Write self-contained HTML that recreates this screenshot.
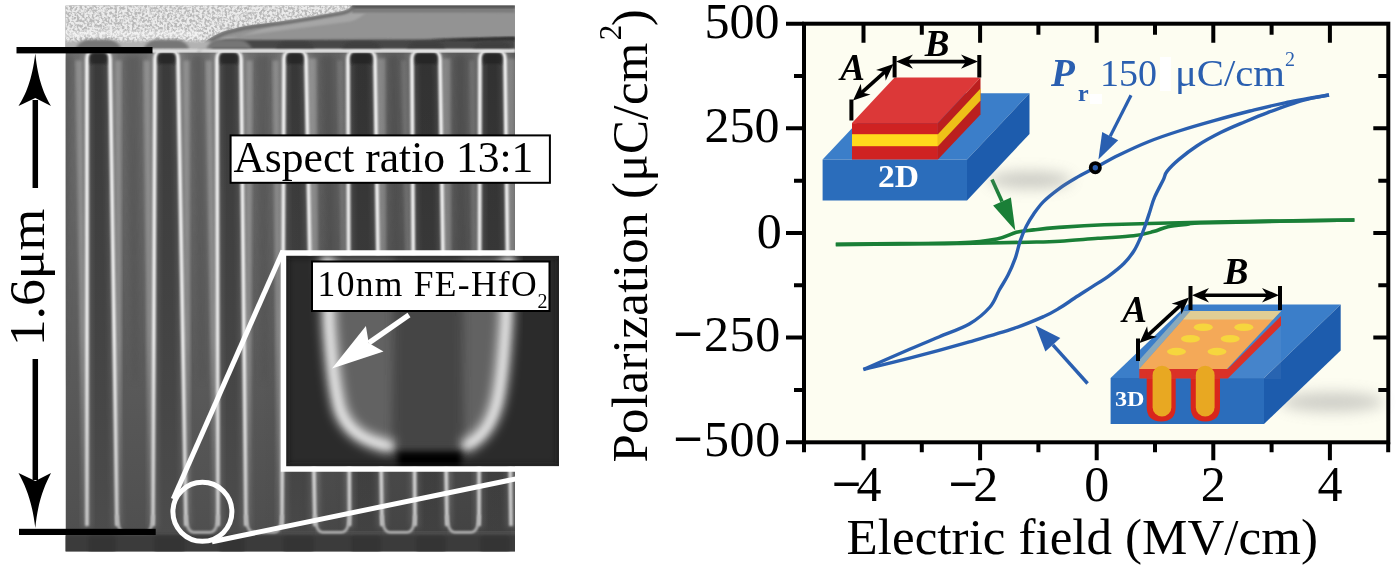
<!DOCTYPE html>
<html><head><meta charset="utf-8"><title>Figure</title>
<style>html,body{margin:0;padding:0;background:#fff}svg{display:block;font-family:"Liberation Serif",serif}</style>
</head><body>
<svg width="1400" height="570" viewBox="0 0 1400 570">
<defs>
<linearGradient id="semBase" x1="0" y1="0" x2="0" y2="1"><stop offset="0" stop-color="#727272"/><stop offset=".5" stop-color="#606060"/><stop offset="1" stop-color="#4e4e4e"/></linearGradient>
<linearGradient id="pillar" x1="0" y1="0" x2="0" y2="1"><stop offset="0" stop-color="#3a3a3a"/><stop offset=".6" stop-color="#444444"/><stop offset="1" stop-color="#4c4c4c"/></linearGradient>
<linearGradient id="lineG" gradientUnits="userSpaceOnUse" x1="0" y1="50" x2="0" y2="530"><stop offset="0" stop-color="#f6f6f6"/><stop offset=".6" stop-color="#eeeeee"/><stop offset="1" stop-color="#c6c6c6"/></linearGradient>
<linearGradient id="secG" gradientUnits="userSpaceOnUse" x1="0" y1="50" x2="0" y2="530"><stop offset="0" stop-color="#a4a4a4" stop-opacity=".6"/><stop offset=".6" stop-color="#a4a4a4" stop-opacity=".5"/><stop offset="1" stop-color="#9a9a9a" stop-opacity="0"/></linearGradient>
<linearGradient id="rdark" x1="0" y1="0" x2="1" y2="0"><stop offset="0" stop-color="#000" stop-opacity="0"/><stop offset=".4" stop-color="#000" stop-opacity=".13"/><stop offset="1" stop-color="#000" stop-opacity=".16"/></linearGradient>
<linearGradient id="secG2" gradientUnits="userSpaceOnUse" x1="0" y1="50" x2="0" y2="530"><stop offset="0" stop-color="#b0b0b0" stop-opacity=".6"/><stop offset=".6" stop-color="#b0b0b0" stop-opacity=".5"/><stop offset="1" stop-color="#b0b0b0" stop-opacity="0"/></linearGradient>
<filter id="b05"><feGaussianBlur stdDeviation=".6"/></filter>
<filter id="b08" x="-20%" y="-20%" width="140%" height="140%"><feGaussianBlur stdDeviation=".85"/></filter>
<filter id="b1"><feGaussianBlur stdDeviation="1.4"/></filter>
<filter id="b3" x="-30%" y="-30%" width="160%" height="160%"><feGaussianBlur stdDeviation="3"/></filter>
<filter id="b4" x="-30%" y="-30%" width="160%" height="160%"><feGaussianBlur stdDeviation="4.5"/></filter>
<filter id="b5" x="-30%" y="-30%" width="160%" height="160%"><feGaussianBlur stdDeviation="5.5"/></filter>
<filter id="b6" x="-50%" y="-100%" width="200%" height="300%"><feGaussianBlur stdDeviation="7"/></filter>
<filter id="noise" x="0" y="0" width="100%" height="100%"><feTurbulence type="fractalNoise" baseFrequency=".4" numOctaves="2" seed="3" result="n"/><feColorMatrix in="n" type="matrix" values="0 0 0 0 0  0 0 0 0 0  0 0 0 0 0  4 0 0 0 -1.6"/><feGaussianBlur stdDeviation=".55"/><feComposite operator="in" in2="SourceGraphic"/></filter>
<clipPath id="semClip"><rect x="65.5" y="5.5" width="449.5" height="546.0"/></clipPath>
<clipPath id="insClip"><rect x="286" y="255.5" width="273" height="211.0"/></clipPath>
</defs>
<rect width="1400" height="570" fill="#fff"/>
<g clip-path="url(#semClip)">
<rect x="65.5" y="5.5" width="449.5" height="546.0" fill="url(#semBase)"/>
<polygon points="87,50.6 110,50.6 117,534 87,534" fill="url(#pillar)"/>
<polygon points="155,50.6 178,50.6 186,534 153,534" fill="url(#pillar)"/>
<polygon points="217,50.6 241,50.6 246,534 218,534" fill="url(#pillar)"/>
<polygon points="284,50.6 306,50.6 315,534 282,534" fill="url(#pillar)"/>
<polygon points="348,50.6 375,50.6 382,534 349.5,534" fill="url(#pillar)"/>
<polygon points="412,50.6 440,50.6 447,534 415,534" fill="url(#pillar)"/>
<polygon points="480,50.6 505,50.6 511,534 479,534" fill="url(#pillar)"/>
<polygon points="49.5,54.6 73,54.6 63.25,381 59.25,381" fill="#4e4e4e" opacity=".5" filter="url(#b3)"/>
<polygon points="41,60.6 47,60.6 40.5,527 34.5,527" fill="url(#secG)" filter="url(#b1)"/>
<polygon points="75.5,60.6 81.5,60.6 88,527 82,527" fill="url(#secG)" filter="url(#b1)"/>
<polygon points="124,54.6 141,54.6 137.0,381 133.0,381" fill="#4e4e4e" opacity=".5" filter="url(#b3)"/>
<polygon points="115.5,60.6 121.5,60.6 122,527 116,527" fill="url(#secG)" filter="url(#b1)"/>
<polygon points="143.5,60.6 149.5,60.6 154,527 148,527" fill="url(#secG)" filter="url(#b1)"/>
<polygon points="192,54.6 203,54.6 204.0,381 200.0,381" fill="#4e4e4e" opacity=".5" filter="url(#b3)"/>
<polygon points="183.5,60.6 189.5,60.6 191,527 185,527" fill="url(#secG)" filter="url(#b1)"/>
<polygon points="205.5,60.6 211.5,60.6 219,527 213,527" fill="url(#secG)" filter="url(#b1)"/>
<polygon points="255,54.6 270,54.6 266.0,381 262.0,381" fill="#4e4e4e" opacity=".5" filter="url(#b3)"/>
<polygon points="246.5,60.6 252.5,60.6 251,527 245,527" fill="url(#secG)" filter="url(#b1)"/>
<polygon points="272.5,60.6 278.5,60.6 283,527 277,527" fill="url(#secG)" filter="url(#b1)"/>
<polygon points="320,54.6 334,54.6 334.25,381 330.25,381" fill="#4e4e4e" opacity=".5" filter="url(#b3)"/>
<polygon points="308.5,58.6 316.5,58.6 321,527 313,527" fill="url(#secG2)" filter="url(#b1)"/>
<polygon points="337,60.6 342,60.6 350,527 345,527" fill="url(#secG)" filter="url(#b1)" opacity=".6"/>
<polygon points="389,54.6 398,54.6 400.5,381 396.5,381" fill="#4e4e4e" opacity=".5" filter="url(#b3)"/>
<polygon points="377.5,58.6 385.5,58.6 388,527 380,527" fill="url(#secG2)" filter="url(#b1)"/>
<polygon points="401,60.6 406,60.6 415.5,527 410.5,527" fill="url(#secG)" filter="url(#b1)" opacity=".6"/>
<polygon points="454,54.6 466,54.6 465.0,381 461.0,381" fill="#4e4e4e" opacity=".5" filter="url(#b3)"/>
<polygon points="442.5,58.6 450.5,58.6 453,527 445,527" fill="url(#secG2)" filter="url(#b1)"/>
<polygon points="469,60.6 474,60.6 479.5,527 474.5,527" fill="url(#secG)" filter="url(#b1)" opacity=".6"/>
<polygon points="519,54.6 546,54.6 532.5,381 528.5,381" fill="#4e4e4e" opacity=".5" filter="url(#b3)"/>
<polygon points="507.5,58.6 515.5,58.6 517,527 509,527" fill="url(#secG2)" filter="url(#b1)"/>
<polygon points="549,60.6 554,60.6 550.5,527 545.5,527" fill="url(#secG)" filter="url(#b1)" opacity=".6"/>
<rect x="250" y="50.6" width="265" height="480.4" fill="url(#rdark)"/>
<polygon points="82.5,50.6 91.5,50.6 91.5,528 82.5,528" fill="#fff" opacity=".13" filter="url(#b3)"/>
<polygon points="105.5,50.6 114.5,50.6 121.5,528 112.5,528" fill="#fff" opacity=".13" filter="url(#b3)"/>
<polygon points="150.5,50.6 159.5,50.6 157.5,528 148.5,528" fill="#fff" opacity=".13" filter="url(#b3)"/>
<polygon points="173.5,50.6 182.5,50.6 190.5,528 181.5,528" fill="#fff" opacity=".13" filter="url(#b3)"/>
<polygon points="212.5,50.6 221.5,50.6 222.5,528 213.5,528" fill="#fff" opacity=".13" filter="url(#b3)"/>
<polygon points="236.5,50.6 245.5,50.6 250.5,528 241.5,528" fill="#fff" opacity=".13" filter="url(#b3)"/>
<polygon points="279.5,50.6 288.5,50.6 286.5,528 277.5,528" fill="#fff" opacity=".13" filter="url(#b3)"/>
<polygon points="301.5,50.6 310.5,50.6 319.5,528 310.5,528" fill="#fff" opacity=".13" filter="url(#b3)"/>
<polygon points="343.5,50.6 352.5,50.6 354,528 345,528" fill="#fff" opacity=".13" filter="url(#b3)"/>
<polygon points="370.5,50.6 379.5,50.6 386.5,528 377.5,528" fill="#fff" opacity=".13" filter="url(#b3)"/>
<polygon points="407.5,50.6 416.5,50.6 419.5,528 410.5,528" fill="#fff" opacity=".13" filter="url(#b3)"/>
<polygon points="435.5,50.6 444.5,50.6 451.5,528 442.5,528" fill="#fff" opacity=".13" filter="url(#b3)"/>
<polygon points="475.5,50.6 484.5,50.6 483.5,528 474.5,528" fill="#fff" opacity=".13" filter="url(#b3)"/>
<polygon points="500.5,50.6 509.5,50.6 515.5,528 506.5,528" fill="#fff" opacity=".13" filter="url(#b3)"/>
<path d="M87,526 L87,59.6 Q87,51.0 94,51.0 L103,51.0 Q110,51.0 110,59.6 L117,526" fill="none" stroke="url(#lineG)" stroke-width="3.7" filter="url(#b08)"/>
<path d="M153,526 L155,59.6 Q155,51.0 162,51.0 L171,51.0 Q178,51.0 178,59.6 L186,526" fill="none" stroke="url(#lineG)" stroke-width="3.7" filter="url(#b08)"/>
<path d="M218,526 L217,59.6 Q217,51.0 224,51.0 L234,51.0 Q241,51.0 241,59.6 L246,526" fill="none" stroke="url(#lineG)" stroke-width="3.7" filter="url(#b08)"/>
<path d="M282,526 L284,59.6 Q284,51.0 291,51.0 L299,51.0 Q306,51.0 306,59.6 L315,526" fill="none" stroke="url(#lineG)" stroke-width="3.7" filter="url(#b08)"/>
<path d="M349.5,526 L348,59.6 Q348,51.0 355,51.0 L368,51.0 Q375,51.0 375,59.6 L382,526" fill="none" stroke="url(#lineG)" stroke-width="3.7" filter="url(#b08)"/>
<path d="M415,526 L412,59.6 Q412,51.0 419,51.0 L433,51.0 Q440,51.0 440,59.6 L447,526" fill="none" stroke="url(#lineG)" stroke-width="3.7" filter="url(#b08)"/>
<path d="M479,526 L480,59.6 Q480,51.0 487,51.0 L498,51.0 Q505,51.0 505,59.6 L511,526" fill="none" stroke="url(#lineG)" stroke-width="3.7" filter="url(#b08)"/>
<path d="M117,515 Q117.5,532 125,532.5 L145,532.5 Q152.5,532 153,515" fill="none" stroke="#b4b4b4" stroke-width="2.8" filter="url(#b08)"/>
<path d="M186,515 Q186.5,532 194,532.5 L210,532.5 Q217.5,532 218,515" fill="none" stroke="#b4b4b4" stroke-width="2.8" filter="url(#b08)"/>
<path d="M246,515 Q246.5,532 254,532.5 L274,532.5 Q281.5,532 282,515" fill="none" stroke="#b4b4b4" stroke-width="2.8" filter="url(#b08)"/>
<path d="M315,515 Q315.5,532 323,532.5 L341.5,532.5 Q349.0,532 349.5,515" fill="none" stroke="#b4b4b4" stroke-width="2.8" filter="url(#b08)"/>
<path d="M382,515 Q382.5,532 390,532.5 L407,532.5 Q414.5,532 415,515" fill="none" stroke="#b4b4b4" stroke-width="2.8" filter="url(#b08)"/>
<path d="M447,515 Q447.5,532 455,532.5 L471,532.5 Q478.5,532 479,515" fill="none" stroke="#b4b4b4" stroke-width="2.8" filter="url(#b08)"/>
<rect x="90" y="53" width="17" height="11" rx="2" fill="#222" opacity=".75" filter="url(#b1)"/>
<rect x="158" y="53" width="17" height="11" rx="2" fill="#222" opacity=".75" filter="url(#b1)"/>
<rect x="220" y="53" width="18" height="11" rx="2" fill="#222" opacity=".75" filter="url(#b1)"/>
<rect x="287" y="53" width="16" height="11" rx="2" fill="#222" opacity=".75" filter="url(#b1)"/>
<rect x="351" y="53" width="21" height="11" rx="2" fill="#222" opacity=".75" filter="url(#b1)"/>
<rect x="415" y="53" width="22" height="11" rx="2" fill="#222" opacity=".75" filter="url(#b1)"/>
<rect x="483" y="53" width="19" height="11" rx="2" fill="#222" opacity=".75" filter="url(#b1)"/>
<rect x="65.5" y="49.2" width="449.5" height="3" fill="#e2e2e2" filter="url(#b08)"/>
<rect x="60.5" y="535" width="459.5" height="30" fill="#3b3b3b" filter="url(#b1)"/>
<rect x="89" y="536" width="26" height="20" fill="#333" opacity=".7" filter="url(#b1)"/>
<rect x="155" y="536" width="29" height="20" fill="#333" opacity=".7" filter="url(#b1)"/>
<rect x="220" y="536" width="24" height="20" fill="#333" opacity=".7" filter="url(#b1)"/>
<rect x="284" y="536" width="29" height="20" fill="#333" opacity=".7" filter="url(#b1)"/>
<rect x="351.5" y="536" width="28.5" height="20" fill="#333" opacity=".7" filter="url(#b1)"/>
<rect x="417" y="536" width="28" height="20" fill="#333" opacity=".7" filter="url(#b1)"/>
<rect x="481" y="536" width="28" height="20" fill="#333" opacity=".7" filter="url(#b1)"/>
<rect x="65.5" y="5.5" width="449.5" height="43.1" fill="#939393"/>
<path d="M200,48 L223.7,38 L350,21.5 C358,20 362,15 366,13 L515,12.5 L515,5 L340,5 Z" fill="#a6a6a6" filter="url(#b08)"/>
<rect x="352" y="5.5" width="163" height="7.5" fill="#7c7c7c" filter="url(#b08)"/>
<rect x="352" y="4.5" width="163" height="3.6" fill="#505050" filter="url(#b08)"/>
<path d="M205,48.8 L225,40 L420,39.5 L515,37 L515,48.8 Z" fill="#474747" filter="url(#b08)"/>
<path d="M430,39.6 L515,37 L515,40 L470,41 Z" fill="#2e2e2e" filter="url(#b08)"/>
<path d="M209.0,49 Q213.0,41.5 221.0,41.5 L237.0,41.5 Q245.0,41.5 249.0,49 Z" fill="#3c3c3c" opacity=".8" filter="url(#b1)"/>
<path d="M275.0,49 Q279.0,41.5 287.0,41.5 L303.0,41.5 Q311.0,41.5 315.0,49 Z" fill="#3c3c3c" opacity=".8" filter="url(#b1)"/>
<path d="M341.5,49 Q345.5,41.5 353.5,41.5 L369.5,41.5 Q377.5,41.5 381.5,49 Z" fill="#3c3c3c" opacity=".8" filter="url(#b1)"/>
<path d="M406.0,49 Q410.0,41.5 418.0,41.5 L434.0,41.5 Q442.0,41.5 446.0,49 Z" fill="#3c3c3c" opacity=".8" filter="url(#b1)"/>
<path d="M472.5,49 Q476.5,41.5 484.5,41.5 L500.5,41.5 Q508.5,41.5 512.5,49 Z" fill="#3c3c3c" opacity=".8" filter="url(#b1)"/>
<path d="M352.4,5 C349,9 347,10 340,11.5 C318,15.5 300,18.5 277,22 C260,24 250,25 240.7,27 C231,29.5 225,30.5 221,32.5 C211,37 207,40 204,43 C201,46 199,48 196,49 L65.5,49 L65.5,5 Z" fill="#ebebeb"/>
<path d="M352.4,5 C349,9 347,10 340,11.5 C318,15.5 300,18.5 277,22 C260,24 250,25 240.7,27 C231,29.5 225,30.5 221,32.5 C211,37 207,40 204,43 C201,46 199,48 196,49 L65.5,49 L65.5,5 Z" fill="#000" filter="url(#noise)" opacity=".21"/>
<path d="M352.4,5 C349,9 347,10 340,11.5 C318,15.5 300,18.5 277,22 C260,24 250,25 240.7,27 C231,29.5 225,30.5 221,32.5 C211,37 207,40 204,43 C201,46 199,48 196,49" fill="none" stroke="#6c6c6c" stroke-width="3" filter="url(#b08)" transform="translate(1.5,2)"/>
<rect x="61.5" y="41" width="150" height="9" fill="#b2b2b2" filter="url(#b1)"/>
<rect x="61.5" y="31" width="140" height="6" fill="#fff" opacity=".35" filter="url(#b1)"/>
<path d="M75.5,49 Q79.5,39.5 89.5,39.5 L107.5,39.5 Q117.5,39.5 121.5,49 Z" fill="#767676" filter="url(#b1)"/>
<path d="M143.5,49 Q147.5,39.5 157.5,39.5 L175.5,39.5 Q185.5,39.5 189.5,49 Z" fill="#767676" filter="url(#b1)"/>
<path d="M206,49 Q210,39.5 220,39.5 L238,39.5 Q248,39.5 252,49 Z" fill="#767676" filter="url(#b1)"/>
<rect x="65.5" y="49.2" width="449.5" height="2.8" fill="#e6e6e6" filter="url(#b08)" opacity=".9"/>
</g>

<line x1="173.2" y1="499" x2="283" y2="250.7" stroke="#fff" stroke-width="5"/>
<line x1="212" y1="541.7" x2="563" y2="469.2" stroke="#fff" stroke-width="5"/>
<circle cx="202.4" cy="511.8" r="29.5" fill="none" stroke="#fff" stroke-width="5"/>


<g clip-path="url(#insClip)">
<rect x="286" y="255.5" width="273" height="211.0" fill="#2b2b2b"/>
<path d="M327,240 L329,324 C332,370 336,395 340,410 C348,432 365,442 393,448 L463,448 C478,441 489,430 495.5,408 C500,395 503,370 506,324 L509,240 Z" fill="#626262" filter="url(#b4)"/>
<path d="M394,240 L392,452 L464,452 L462,240 Z" fill="#3e3e3e" filter="url(#b4)" opacity=".75"/>
<path d="M327,240 L329,324 C332,370 336,395 340,410 C348,432 365,442 393,447" fill="none" stroke="#e6e6e6" stroke-width="13" filter="url(#b5)"/>
<path d="M509,240 L506,324 C503,370 500,395 495.5,408 C489,430 478,441 463,447" fill="none" stroke="#e6e6e6" stroke-width="13" filter="url(#b5)"/>
<path d="M327,240 L329,324 C332,370 336,395 340,410 C348,432 365,442 393,447" fill="none" stroke="#fff" stroke-width="4" filter="url(#b3)" opacity=".55"/>
<path d="M509,240 L506,324 C503,370 500,395 495.5,408 C489,430 478,441 463,447" fill="none" stroke="#fff" stroke-width="4" filter="url(#b3)" opacity=".55"/>
<path d="M393,443 L463,443" fill="none" stroke="#7a7a7a" stroke-width="8" filter="url(#b4)"/>
<rect x="398" y="452" width="63" height="24" fill="#050505" filter="url(#b3)"/>
<rect x="283" y="252.5" width="279" height="217.0" fill="none" stroke="#1c1c1c" stroke-width="9" filter="url(#b3)" opacity=".8"/>
</g>
<path d="M561,253 H283.5 V469 H561" fill="none" stroke="#fff" stroke-width="5.4"/>

<line x1="409" y1="315" x2="368.7" y2="343" stroke="#fff" stroke-width="5.2"/><polygon points="332,368.5 365.9,326.1 368.7,343 383.5,351.6" fill="#fff"/>

<rect x="230.6" y="135.4" width="319.3" height="47.4" fill="#fff" stroke="#000" stroke-width="2"/>
<text x="233.4" y="172.2" font-size="44" textLength="300" lengthAdjust="spacingAndGlyphs">Aspect ratio 13:1</text>
<rect x="312" y="261.5" width="237.5" height="49.5" fill="#fff" stroke="#000" stroke-width="2"/>
<text x="317.6" y="295.7" font-size="35.5" textLength="219">10nm FE-HfO</text>
<text x="537.5" y="308.2" font-size="20">2</text>


<rect x="16.5" y="47" width="136" height="6.4" fill="#000"/>
<rect x="19" y="528.8" width="136.7" height="6.2" fill="#000"/>
<path d="M35.3,100 V188" stroke="#000" stroke-width="5.5"/>
<path d="M35.3,359 V480" stroke="#000" stroke-width="5.5"/>
<path d="M35.3,53.4 C38,80 44,94 51,106 L35.3,98 L18.5,106 C26,94 32,80 35.3,53.4 Z" fill="#000"/>
<path d="M35.3,528 C38,501 44,487 51,473 L35.3,481 L18.5,473 C26,487 32,501 35.3,528 Z" fill="#000"/>
<text transform="translate(44.2,346.3) rotate(-90)" font-size="50" textLength="137.7" lengthAdjust="spacingAndGlyphs">1.6μm</text>

<rect x="804" y="23.7" width="584.3" height="418.6" fill="#fdfdf1"/>
<path d="M786,23.7H804 M794,76H804 M1378.3,76H1388.3 M786,128.3H804 M1373.3,128.3H1388.3 M794,180.7H804 M1378.3,180.7H1388.3 M786,233H804 M1373.3,233H1388.3 M794,285.3H804 M1378.3,285.3H1388.3 M786,337.6H804 M1373.3,337.6H1388.3 M794,390H804 M1378.3,390H1388.3 M786,442.3H804 M863.5,442.3V460.3 M863.5,23.7V42.7 M921.8,442.3V452.3 M921.8,23.7V34.7 M980.1,442.3V460.3 M980.1,23.7V42.7 M1038.4,442.3V452.3 M1038.4,23.7V34.7 M1096.7,442.3V460.3 M1096.7,23.7V42.7 M1155,442.3V452.3 M1155,23.7V34.7 M1213.3,442.3V460.3 M1213.3,23.7V42.7 M1271.6,442.3V452.3 M1271.6,23.7V34.7 M1329.9,442.3V460.3 M1329.9,23.7V42.7 M1388.2,442.3V452.3 M804,442.3V452.3" stroke="#000" stroke-width="4" fill="none"/>
<path d="M835.8,244.3 C846.5,244.2 879.3,243.8 900,243.6 C920.7,243.4 943.9,243.7 960,242.9 C976.1,242.1 987.5,240.7 996.9,238.9 C1006.3,237.1 1010.4,233.8 1016.5,232.3 C1022.6,230.8 1027.1,230.7 1033.7,229.9 C1040.3,229.1 1044.3,228.4 1056,227.6 C1067.7,226.8 1080,225.7 1104,224.8 C1128,223.9 1170.7,222.9 1200,222.3 C1229.3,221.7 1254.3,221.4 1280,221 C1305.7,220.6 1342,220.2 1354.4,220" fill="none" stroke="#1a7f37" stroke-width="3.6" stroke-linejoin="round"/>
<path d="M1354.4,220 C1342,220.2 1305.7,220.7 1280,221.2 C1254.3,221.7 1215.4,222.5 1200,223 C1184.6,223.5 1193.1,223.6 1187.8,224.2 C1182.5,224.8 1173.7,225.5 1168,226.7 C1162.3,227.9 1159.1,230.1 1153.4,231.6 C1147.7,233.1 1142.9,234.7 1133.7,235.8 C1124.5,236.9 1110.3,237.4 1098,238.3 C1085.7,239.2 1071.7,240.5 1060,241.2 C1048.3,241.8 1044.7,241.8 1028,242.2 C1011.3,242.6 981.3,243.1 960,243.4 C938.7,243.7 920.7,243.8 900,244 C879.3,244.2 846.5,244.5 835.8,244.6" fill="none" stroke="#1a7f37" stroke-width="3.6" stroke-linejoin="round"/>
<path d="M863.4,369.5 C871.1,366.1 896.9,354.8 909.6,349.3 C922.3,343.8 929.5,340.9 939.4,336.7 C949.3,332.5 960.9,328.9 969.3,324 C977.7,319.1 985,312.7 990,307 C995,301.3 996.3,295.3 999.3,290 C1002.3,284.7 1005.2,280.6 1007.9,275.3 C1010.6,270 1013.2,263.8 1015.3,258.1 C1017.3,252.4 1018.4,246.2 1020.2,240.9 C1022,235.6 1024,230.7 1026.3,226.2 C1028.5,221.7 1030.8,218 1033.7,213.9 C1036.6,209.8 1039.4,205.7 1043.5,201.6 C1047.6,197.5 1053,193.2 1058.3,189.3 C1063.6,185.4 1069.3,181.9 1075.5,178.3 C1081.7,174.7 1088.2,171.5 1095.5,167.6 C1102.8,163.7 1110.1,159.3 1119,155 C1127.9,150.7 1139,145.5 1149,141.5 C1159,137.5 1168,134.5 1179,131 C1190,127.5 1203.2,123.7 1215,120.4 C1226.8,117.1 1238.3,113.9 1250,111 C1261.7,108.1 1271.8,105.5 1285,102.8 C1298.2,100.1 1321.7,96.3 1329,95" fill="none" stroke="#2a5fb0" stroke-width="3.4" stroke-linejoin="round"/>
<path d="M1329,95 C1324.6,95.9 1313,97.5 1302.8,100.4 C1292.6,103.3 1277.4,109 1267.7,112.6 C1258,116.2 1252.3,118.7 1244.5,122 C1236.7,125.3 1228.5,128.6 1220.6,132.6 C1212.6,136.6 1203.7,141.5 1196.8,146 C1189.9,150.5 1184,155.2 1179,159.4 C1174,163.6 1169.6,168 1167,171.4 C1164.4,174.8 1165.3,175.7 1163.2,180 C1161.1,184.3 1156.8,191.9 1154.6,197.2 C1152.3,202.5 1151.3,207.1 1149.7,212 C1148.1,216.9 1146.4,222.2 1144.8,226.7 C1143.2,231.2 1141.8,234.9 1139.9,239 C1138.1,243.1 1136.4,247.2 1133.7,251.3 C1131,255.4 1128,259.4 1123.9,263.5 C1119.8,267.6 1114.3,271.9 1109,275.8 C1103.7,279.7 1097.7,283.2 1092,286.9 C1086.3,290.6 1080,294.5 1074.7,298 C1069.4,301.5 1065.2,304.7 1060,307.8 C1054.8,310.9 1051.5,313.1 1043.8,316.5 C1036.1,319.9 1026.4,324.2 1014,328.4 C1001.6,332.6 986.7,336.8 969.3,341.8 C951.9,346.8 927.2,353.6 909.6,358.2 C892,362.8 871.1,367.6 863.4,369.5" fill="none" stroke="#2a5fb0" stroke-width="3.4" stroke-linejoin="round"/>
<line x1="1087.6" y1="383.5" x2="1052.9" y2="344.8" stroke="#2a5fb0" stroke-width="3.4"/><polygon points="1035.5,325.4 1060.3,338.1 1052.9,344.8 1045.4,351.4" fill="#2a5fb0"/>
<line x1="1131" y1="95.3" x2="1110.2" y2="136.2" stroke="#2a5fb0" stroke-width="3.2"/><polygon points="1098.4,159.4 1102.2,132.1 1110.2,136.2 1118.2,140.3" fill="#2a5fb0"/>
<line x1="992" y1="179.5" x2="1002" y2="201.5" stroke="#1a7f37" stroke-width="3.6"/><polygon points="1015.3,230.6 993.1,205.5 1002,201.5 1010.9,197.4" fill="#1a7f37"/>
<circle cx="1095.3" cy="167.7" r="4.6" fill="#2a5fb0" stroke="#000" stroke-width="3.8"/>

<ellipse cx="1030" cy="180" rx="42" ry="9" fill="#8a8a8a" opacity=".42" filter="url(#b6)"/>
<polygon points="822.6,159.5 885,93.2 1029.5,93.2 967,159.5" fill="#3b7ec9"/>
<polygon points="967,159.5 1029.5,93.2 1029.5,134 967,200.5" fill="#1d5cad"/>
<rect x="822.6" y="159.5" width="144.4" height="41" fill="#2b6dbb"/>
<polygon points="852,123.1 894.6,77.4 980.5,77.4 937.9,123.1" fill="#dc3838"/>
<polygon points="937.9,123.1 980.5,77.4 980.5,114.6 937.9,159.5" fill="#bb1f1f"/>
<polygon points="937.9,134.2 980.5,88.5 980.5,100.5 937.9,146.2" fill="#eec018"/>
<rect x="852" y="123.1" width="85.9" height="36.4" fill="#cf2222"/>
<rect x="852" y="134.2" width="85.9" height="12" fill="#ffda1c"/>
<text x="898.5" y="187" font-size="31" font-weight="bold" fill="#fff" text-anchor="middle" textLength="41" lengthAdjust="spacingAndGlyphs">2D</text>

<line x1="906.2" y1="61.6" x2="967.8" y2="61.6" stroke="#000" stroke-width="3.6"/><polygon points="896,61.6 913,68.8 907.9,61.6 913,54.4" fill="#000"/><polygon points="978,61.6 961,68.8 966.1,61.6 961,54.4" fill="#000"/>
<line x1="885.9" y1="70.8" x2="860.6" y2="93.7" stroke="#000" stroke-width="3.6"/><polygon points="893.5,64 876,70 884.7,72 885.7,80.8" fill="#000"/><polygon points="853,100.5 860.8,83.7 861.8,92.5 870.5,94.5" fill="#000"/>
<path d="M894.6,56V77.4 M979.3,55V77.4 M851.4,99.5V120.5" stroke="#000" stroke-width="4" fill="none"/>
<text x="852.5" y="80" font-size="37" font-weight="bold" font-style="italic" text-anchor="middle">A</text>
<text x="937" y="56" font-size="37" font-weight="bold" font-style="italic" text-anchor="middle">B</text>

<ellipse cx="1332" cy="402" rx="52" ry="10" fill="#8a8a8a" opacity=".4" filter="url(#b6)"/>
<polygon points="1110.6,378 1187.3,304.4 1340.7,304.4 1264,378" fill="#3b7ec9"/>
<polygon points="1264,378 1340.7,304.4 1340.7,350.5 1264,424" fill="#1d5cad"/>
<rect x="1110.6" y="378" width="153.4" height="46" fill="#2b6dbb"/>
<polygon points="1139.3,378.5 1227.8,378.5 1281,325.5 1281,316 1227.8,369 1139.3,369" fill="#d9261c"/>
<path d="M1146.7,372 H1175.7 V407 Q1175.7,421.4 1161.2,421.4 Q1146.7,421.4 1146.7,407 Z" fill="#d9261c"/>
<path d="M1190.7,372 H1220 V407 Q1220,421.4 1205.3,421.4 Q1190.7,421.4 1190.7,407 Z" fill="#d9261c"/>
<polygon points="1139,369 1190.5,311 1281,311 1227,369" fill="#f4a550"/>
<polygon points="1139,369 1190.5,311 1281,311 1281,379 1139,379" fill="#fff" opacity=".05"/>
<polygon points="1183,319.5 1190.5,311 1281,311 1273,319.5" fill="#d9d9a8" opacity=".75"/>
<polygon points="1139,369 1190.5,311 1183.5,311 1139,360.5" fill="#d8d4b0" opacity=".5"/>
<g fill="#f6d63e">
<ellipse cx="1203.3" cy="327.3" rx="9.5" ry="3.8"/><ellipse cx="1243.8" cy="327.3" rx="9.5" ry="3.8"/>
<ellipse cx="1190.5" cy="338.7" rx="9.5" ry="3.8"/><ellipse cx="1230.2" cy="338.7" rx="9.5" ry="3.8"/>
<ellipse cx="1176.5" cy="351.6" rx="9.5" ry="3.8"/><ellipse cx="1217" cy="351.6" rx="9.5" ry="3.8"/>
</g>
<rect x="1152.6" y="365.8" width="18.8" height="50.8" rx="9.4" fill="#e8a822"/>
<rect x="1195.8" y="365.8" width="18.8" height="50.8" rx="9.4" fill="#e8a822"/>
<text x="1129.7" y="406.4" font-size="21" font-weight="bold" fill="#fff" text-anchor="middle" textLength="29.5" lengthAdjust="spacingAndGlyphs">3D</text>

<line x1="1202.2" y1="295.2" x2="1268.8" y2="295.2" stroke="#000" stroke-width="3.6"/><polygon points="1192,295.2 1209,302.4 1203.9,295.2 1209,287.9" fill="#000"/><polygon points="1279,295.2 1262,302.4 1267.1,295.2 1262,287.9" fill="#000"/>
<line x1="1181.5" y1="304.4" x2="1147" y2="336.1" stroke="#000" stroke-width="3.6"/><polygon points="1189,297.5 1171.6,303.7 1180.2,305.6 1181.4,314.3" fill="#000"/><polygon points="1139.5,343 1147.1,326.2 1148.3,334.9 1156.9,336.8" fill="#000"/>
<path d="M1190.5,286V310 M1280,286V310 M1138,338.5V361" stroke="#000" stroke-width="4" fill="none"/>
<text x="1134.5" y="321.7" font-size="37" font-weight="bold" font-style="italic" text-anchor="middle">A</text>
<text x="1236" y="284" font-size="37" font-weight="bold" font-style="italic" text-anchor="middle">B</text>
<rect x="1160" y="57" width="11" height="34" fill="#fff"/><rect x="1090" y="94" width="12" height="10" fill="#fff"/>
<text x="1051" y="85.6" font-size="39" font-weight="bold" font-style="italic" fill="#2a5fb0">P</text>
<text x="1078" y="101" font-size="24" font-weight="bold" fill="#2a5fb0">r</text>
<text x="1100" y="85.6" font-size="38" fill="#2a5fb0" textLength="57" lengthAdjust="spacingAndGlyphs">150</text>
<text x="1175" y="85.6" font-size="38" fill="#2a5fb0" textLength="110" lengthAdjust="spacingAndGlyphs">μC/cm</text>
<text x="1285" y="66" font-size="20" fill="#2a5fb0">2</text>
<rect x="804" y="23.7" width="584.3" height="418.6" fill="none" stroke="#000" stroke-width="4"/>
<text x="779.6" y="38.2" font-size="50" text-anchor="end">500</text>
<text x="779.6" y="141.7" font-size="50" text-anchor="end">250</text>
<text x="781.8" y="248.2" font-size="50" text-anchor="end">0</text>
<text x="673.8 704 729.6 755.2" y="350.8" font-size="50"><tspan stroke="#000" stroke-width="1.1">−</tspan>250</text>
<text x="673.8 704 729.6 755.2" y="455.8" font-size="50"><tspan stroke="#000" stroke-width="1.1">−</tspan>500</text>
<text x="832.3 856.6" y="501" font-size="50"><tspan stroke="#000" stroke-width="1.1">−</tspan>4</text>
<text x="948.9 973.2" y="501" font-size="50"><tspan stroke="#000" stroke-width="1.1">−</tspan>2</text>
<text x="1096.7" y="501" font-size="50" text-anchor="middle">0</text>
<text x="1213.3" y="501" font-size="50" text-anchor="middle">2</text>
<text x="1329.9" y="501" font-size="50" text-anchor="middle">4</text>
<text x="846.5" y="554.4" font-size="51" textLength="471.5">Electric field (MV/cm)</text>
<text transform="translate(647.2,462.6) rotate(-90)" font-size="51" textLength="453.3">Polarization (μC/cm<tspan font-size="31" dy="-26" dx="2">2</tspan><tspan dy="26" dx="-2">)</tspan></text>
</svg>
</body></html>
